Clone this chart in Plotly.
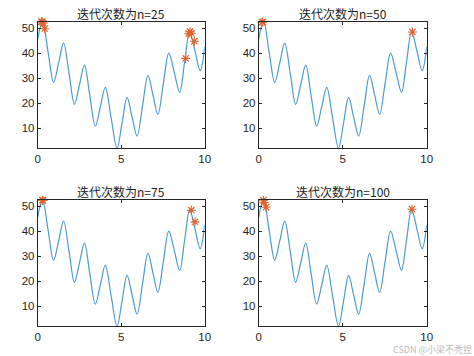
import plotly.graph_objects as go

# curve (same function in all four panels)
curve_x = [0, 0.15, 0.3, 0.62, 0.95, 1.25, 1.55, 1.88, 2.2, 2.5, 2.8, 3.12, 3.45, 3.75,
           4.05, 4.4, 4.75, 5.05, 5.35, 5.65, 5.95, 6.28, 6.6, 6.9, 7.2, 7.52, 7.85,
           8.18, 8.5, 8.8, 9.1, 9.42, 9.73, 10]
curve_y = [45.5, 50.2, 52.5, 40.5, 28.3, 36.0, 44.0, 31.8, 19.5, 27.3, 35.2, 23.0, 10.8, 18.5,
           26.3, 14.0, 1.9, 12.0, 22.3, 14.5, 6.8, 19.0, 31.1, 23.3, 15.5, 27.7, 40.0,
           32.2, 24.3, 36.5, 48.6, 40.8, 33.0, 42.5]

titles = ["迭代次数为n=25", "迭代次数为n=50", "迭代次数为n=75", "迭代次数为n=100"]

# population points (stars) per panel
pts25_x = [0.22, 0.28, 0.33, 0.42, 9.05, 9.12, 9.2, 9.38, 8.86]
pts25_y = [52.6, 52.5, 52.0, 49.8, 47.8, 48.6, 48.0, 44.8, 37.9]
pts50_x = [0.2, 0.24, 9.15]
pts50_y = [52.4, 52.5, 48.5]
pts75_x = [0.28, 0.32, 9.2, 9.42]
pts75_y = [52.4, 52.3, 48.4, 43.7]
pts100_x = [0.28, 0.32, 0.44, 9.12]
pts100_y = [52.4, 51.5, 49.6, 48.8]

x_ticks = [0, 5, 10]
y_ticks = [10, 20, 30, 40, 50]

pts = [(pts25_x, pts25_y), (pts50_x, pts50_y), (pts75_x, pts75_y), (pts100_x, pts100_y)]

W, H = 474, 356
# axes boxes in pixels: left, right, top, bottom
boxes = [(37.7, 204.7, 21.7, 148.3), (258.7, 426.7, 21.7, 148.3),
         (37.7, 204.7, 199.7, 326.3), (258.7, 426.7, 199.7, 326.3)]

fig = go.Figure()
line_col = "#4A9AD3"
mk_col = "#E2612A"
axis_col = "#262626"

for i in range(4):
    xa = "x" if i == 0 else f"x{i+1}"
    ya = "y" if i == 0 else f"y{i+1}"
    fig.add_trace(go.Scatter(x=curve_x, y=curve_y, mode="lines",
                             line=dict(color=line_col, width=1.2, shape="spline", smoothing=1.0),
                             xaxis=xa, yaxis=ya, showlegend=False, hoverinfo="skip"))
    px_, py_ = pts[i]
    fig.add_trace(go.Scatter(x=px_, y=py_, mode="markers",
                             marker=dict(symbol="asterisk-open", size=7.5, color=mk_col,
                                         line=dict(color=mk_col, width=1.1)),
                             xaxis=xa, yaxis=ya, showlegend=False, cliponaxis=False))
    l, r, t, b = boxes[i]
    axkw = dict(showline=True, linecolor=axis_col, linewidth=0.8, mirror="allticks",
                ticks="inside", ticklen=3, tickwidth=0.8, tickcolor=axis_col,
                showgrid=False, zeroline=False, automargin=False,
                tickfont=dict(family="Liberation Sans, Arial", size=11.5, color=axis_col))
    fig.update_layout(**{
        ("xaxis" if i == 0 else f"xaxis{i+1}"): dict(
            domain=[l / W, r / W], anchor=ya, range=[0, 10], tickvals=x_ticks, **axkw),
        ("yaxis" if i == 0 else f"yaxis{i+1}"): dict(
            domain=[1 - b / H, 1 - t / H], anchor=xa, range=[1.9, 52.6],
            tickvals=y_ticks, **axkw),
    })
    fig.add_annotation(text=titles[i], xref="paper", yref="paper",
                       x=(l + r) / 2 / W, y=1 - (t - 8) / H, xanchor="center", yanchor="middle",
                       showarrow=False,
                       font=dict(family="Noto Sans CJK SC, Liberation Sans", size=12, color="#222222"))

fig.add_annotation(text="CSDN @小梁不秃捏", xref="paper", yref="paper",
                   x=473 / W, y=1 - 349.5 / H, xanchor="right", yanchor="middle", showarrow=False,
                   borderpad=0,
                   font=dict(family="Noto Sans CJK SC, Liberation Sans", size=9, color="#BDBDBD"))

fig.update_layout(width=W, height=H, margin=dict(l=0, r=0, t=0, b=0),
                  paper_bgcolor="white", plot_bgcolor="white")
fig.write_html("out.html", config={"displayModeBar": False},
               post_script="document.body.style.margin='0px';document.body.style.overflow='hidden';")
